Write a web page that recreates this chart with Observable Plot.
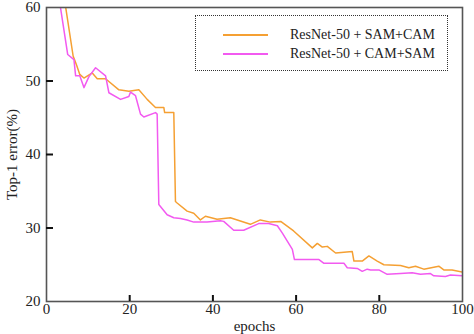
<!DOCTYPE html>
<html>
<head>
<meta charset="utf-8">
<script src="https://cdn.jsdelivr.net/npm/d3@7"></script>
<script src="https://cdn.jsdelivr.net/npm/@observablehq/plot@0.6"></script>
<style>
  body { margin: 0; background: #fff; }
  #wrap { position: relative; width: 474px; height: 334px; font-family: "Liberation Serif", serif; }
  #wrap svg, #wrap svg text { font-family: "Liberation Serif", serif !important; }
  #legend { position: absolute; left: 195px; top: 15px; width: 253px; height: 56px; border: 1.5px dotted #333; box-sizing: border-box; font-size: 14px; color: #222; }
  .row { position: absolute; left: 27px; display: flex; align-items: center; line-height: 18px; }
  .sw { width: 45px; height: 0; border-top: 2px solid; margin-right: 22px; }
</style>
</head>
<body>
<div id="wrap"></div>
<script>
const seriesNames = ["ResNet-50 + SAM+CAM", "ResNet-50 + CAM+SAM"];
const seriesColors = ["#f5a033", "#f25af0"];

const samCamEpochs = [3, 6.4, 7.2, 8.0, 9.0, 11.0, 12.2, 14.2, 17.4, 19.8, 22.2, 24.2, 26.2, 28.2, 28.4, 30.6, 31.0, 31.4, 33.8, 35.4, 37.0, 38.2, 41.0, 44.2, 49.0, 51.4, 53.8, 56.3, 59.4, 63.9, 65.1, 66.3, 67.5, 69.5, 73.5, 73.9, 75.9, 77.5, 79.5, 81.1, 85.1, 87.1, 88.7, 90.7, 94.3, 95.5, 97.5, 100];
const samCamError = [66, 53.4, 52.2, 50.9, 50.4, 51.1, 50.3, 50.3, 48.8, 48.6, 48.8, 47.5, 46.4, 46.4, 45.7, 45.7, 33.6, 33.4, 32.3, 32.0, 31.1, 31.6, 31.2, 31.4, 30.5, 31.1, 30.8, 30.9, 29.6, 27.3, 27.9, 27.4, 27.5, 26.6, 26.8, 25.5, 25.5, 26.2, 25.5, 25.0, 24.9, 24.6, 24.8, 24.4, 24.8, 24.3, 24.3, 24.0];

const camSamEpochs = [2, 5.1, 6.6, 7.0, 8.0, 9.0, 10.2, 11.8, 14.2, 15.0, 17.8, 19.8, 20.2, 21.4, 22.6, 23.4, 26.2, 26.6, 27.0, 29.0, 30.6, 32.2, 33.8, 35.4, 38.6, 41.8, 42.6, 45.0, 47.4, 51.0, 53.4, 55.5, 56.7, 59.1, 59.6, 65.5, 66.7, 70.7, 71.5, 72.3, 74.7, 75.9, 77.1, 77.9, 79.9, 81.9, 85.1, 87.9, 89.9, 92.3, 93.1, 95.9, 97.1, 100];
const camSamError = [65, 53.6, 52.9, 50.7, 50.7, 49.1, 50.6, 51.8, 50.7, 48.4, 47.5, 47.9, 48.5, 48.0, 45.5, 45.1, 45.7, 45.5, 33.2, 31.8, 31.4, 31.3, 31.1, 30.8, 30.8, 31.0, 30.9, 29.7, 29.7, 30.6, 30.6, 30.3, 29.3, 27.1, 25.7, 25.7, 25.2, 25.2, 25.2, 24.6, 24.5, 24.1, 24.4, 24.3, 24.3, 23.7, 23.8, 23.9, 23.7, 23.8, 23.5, 23.4, 23.6, 23.5];

const xTickLabels = [0, 20, 40, 60, 80, 100];
const yTickLabels = [20, 30, 40, 50, 60];
const xInnerTicks = [20, 40, 60, 80];
const yInnerTicks = [30, 40, 50];

const rows = [];
samCamEpochs.forEach((e, i) => rows.push({epoch: e, err: samCamError[i], s: seriesNames[0]}));
camSamEpochs.forEach((e, i) => rows.push({epoch: e, err: camSamError[i], s: seriesNames[1]}));

const W = 474, H = 334, mt = 7, mb = 33, ml = 46, mr = 12;
const font = "Liberation Serif";

const chart = Plot.plot({
  width: W, height: H,
  marginTop: mt, marginBottom: mb, marginLeft: ml, marginRight: mr,
  style: {fontFamily: font, fontSize: "14px", color: "#222", background: "#fff"},
  x: {domain: [0, 100]},
  y: {domain: [20, 60]},
  color: {domain: seriesNames, range: seriesColors},
  marks: [
    Plot.line(rows, {x: "epoch", y: "err", z: "s", stroke: "s", strokeWidth: 1.5, clip: true}),
    Plot.frame({stroke: "#555", strokeWidth: 1.6}),
    Plot.tickX(xInnerTicks, {x: d => d, stroke: "#111", strokeWidth: 2, insetTop: H - mt - mb - 6}),
    Plot.tickY(yInnerTicks, {y: d => d, stroke: "#111", strokeWidth: 2, insetRight: W - ml - mr - 7}),
    Plot.axisX(xTickLabels, {tickSize: 0, tickPadding: 2, fontSize: 15, fontFamily: font, label: "epochs", labelAnchor: "center", labelOffset: 29, labelArrow: "none"}),
    Plot.axisY(yTickLabels, {tickSize: 0, tickPadding: 6, fontSize: 15, fontFamily: font, label: "Top-1 error(%)", labelAnchor: "center", labelOffset: 40, labelArrow: "none"})
  ]
});

const wrap = document.getElementById("wrap");
wrap.appendChild(chart);

const legend = document.createElement("div");
legend.id = "legend";
seriesNames.forEach((n, i) => {
  const r = document.createElement("div");
  r.className = "row";
  r.style.top = (i === 0 ? 10 : 29) + "px";
  const sw = document.createElement("span");
  sw.className = "sw";
  sw.style.borderTopColor = seriesColors[i];
  const t = document.createElement("span");
  t.textContent = n;
  r.appendChild(sw); r.appendChild(t);
  legend.appendChild(r);
});
wrap.appendChild(legend);
</script>
</body>
</html>
